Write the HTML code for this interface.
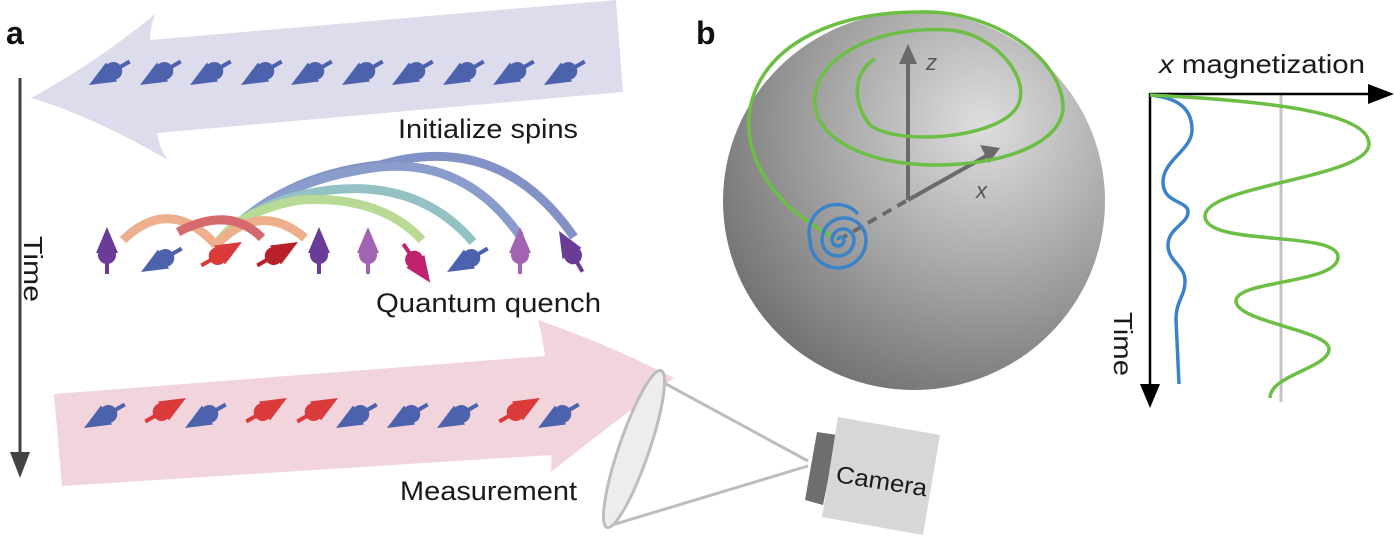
<!DOCTYPE html>
<html><head><meta charset="utf-8"><style>
html,body{margin:0;padding:0;background:#fff;}
svg{display:block;}
text{font-family:"Liberation Sans",sans-serif;fill:#1a1a1a;}
</style></head><body>
<svg width="1395" height="537" viewBox="0 0 1395 537" xmlns="http://www.w3.org/2000/svg">
<defs>
<g id="sp">
<circle cx="0" cy="-2" r="9" fill="currentColor"/>
<polygon points="0,-30 -11,-4 11,-4" fill="currentColor"/>
<line x1="0" y1="5" x2="0" y2="17" stroke="currentColor" stroke-width="4"/>
</g>
<radialGradient id="sg" cx="0.68" cy="0.3" r="0.8">
<stop offset="0" stop-color="#dedede"/>
<stop offset="0.45" stop-color="#acacac"/>
<stop offset="1" stop-color="#6e6e6e"/>
</radialGradient>
</defs>

<!-- panel a -->
<text x="6" y="44" font-size="32" font-weight="bold" style="fill:#111">a</text>
<line x1="20" y1="78" x2="20" y2="458" stroke="#444" stroke-width="3"/>
<polygon points="10,452 30,452 20,478" fill="#444"/>
<text transform="translate(24,236) rotate(90)" font-size="26" textLength="66" lengthAdjust="spacingAndGlyphs">Time</text>

<path d="M616,0 L623,92 L157,133 Q160,150 168,160 Q90,115 31,98 Q100,60 155,14 Q150,28 150,40 Z" fill="#dcdcec"/>
<g style="color:#4d62ad">
<use href="#sp" transform="translate(115,70) rotate(-120)"/>
<use href="#sp" transform="translate(166,70) rotate(-120)"/>
<use href="#sp" transform="translate(216,70) rotate(-120)"/>
<use href="#sp" transform="translate(267,70) rotate(-120)"/>
<use href="#sp" transform="translate(317,70) rotate(-120)"/>
<use href="#sp" transform="translate(368,70) rotate(-120)"/>
<use href="#sp" transform="translate(418,70) rotate(-120)"/>
<use href="#sp" transform="translate(469,70) rotate(-120)"/>
<use href="#sp" transform="translate(519,70) rotate(-120)"/>
<use href="#sp" transform="translate(570,70) rotate(-120)"/>
</g>
<text x="398" y="138" font-size="27" textLength="180" lengthAdjust="spacingAndGlyphs">Initialize spins</text>

<g fill="none" stroke-width="9" stroke-linecap="butt">
<path d="M574,237 Q500,130 380,165 Q280,175 216,245" stroke="#8392c6"/>
<path d="M520,236 Q460,150 360,170 Q270,185 216,245" stroke="#8a9ccc"/>
<path d="M473,242 Q420,180 330,190 Q250,200 216,245" stroke="#94c2c4"/>
<path d="M422,240 Q380,195 300,200 Q240,210 216,245" stroke="#b8da94"/>
<path d="M305,238 Q260,200 216,245" stroke="#eeb08c"/>
<path d="M123,240 Q170,195 216,245" stroke="#eeb08c"/>
<path d="M178,232 Q230,205 262,238" stroke="#d46a6e"/>
</g>
<use href="#sp" transform="translate(107,257)" style="color:#6a3c98"/>
<use href="#sp" transform="translate(167,257) rotate(-120)" style="color:#4d62ad"/>
<use href="#sp" transform="translate(216,257) rotate(60)" style="color:#da3a3a"/>
<use href="#sp" transform="translate(272,257) rotate(60)" style="color:#b8212a"/>
<use href="#sp" transform="translate(319,257)" style="color:#6a3c98"/>
<use href="#sp" transform="translate(368,257)" style="color:#a263b2"/>
<use href="#sp" transform="translate(413,258) rotate(145)" style="color:#c0226d"/>
<use href="#sp" transform="translate(473,257) rotate(-120)" style="color:#4d62ad"/>
<use href="#sp" transform="translate(520,257)" style="color:#a263b2"/>
<use href="#sp" transform="translate(574,257) rotate(-30)" style="color:#6a3c98"/>
<text x="376" y="312" font-size="27" textLength="225" lengthAdjust="spacingAndGlyphs">Quantum quench</text>

<path d="M54,394 L545,356 Q542,335 538,320 Q610,345 674,378 Q610,425 551,472 Q552,462 551,455 L62,486 Z" fill="#f2d4dd"/>
<g>
<use href="#sp" transform="translate(110,413) rotate(-120)" style="color:#4d62ad"/>
<use href="#sp" transform="translate(160,413) rotate(60)" style="color:#da3a3a"/>
<use href="#sp" transform="translate(211,413) rotate(-120)" style="color:#4d62ad"/>
<use href="#sp" transform="translate(261,413) rotate(60)" style="color:#da3a3a"/>
<use href="#sp" transform="translate(312,413) rotate(60)" style="color:#da3a3a"/>
<use href="#sp" transform="translate(362,413) rotate(-120)" style="color:#4d62ad"/>
<use href="#sp" transform="translate(413,413) rotate(-120)" style="color:#4d62ad"/>
<use href="#sp" transform="translate(463,413) rotate(-120)" style="color:#4d62ad"/>
<use href="#sp" transform="translate(514,413) rotate(60)" style="color:#da3a3a"/>
<use href="#sp" transform="translate(564,413) rotate(-120)" style="color:#4d62ad"/>
</g>
<text x="400" y="500" font-size="27" textLength="177" lengthAdjust="spacingAndGlyphs">Measurement</text>

<line x1="666" y1="384" x2="808" y2="461" stroke="#bdbdbd" stroke-width="3"/>
<line x1="612" y1="525" x2="808" y2="466" stroke="#bdbdbd" stroke-width="3"/>
<ellipse cx="634" cy="449" rx="15" ry="83" transform="rotate(19 634 449)" fill="#ededf0" stroke="#bdbdbd" stroke-width="3"/>
<polygon points="817,432 837,435 823,505 805,500" fill="#6e6e6e"/>
<polygon points="838,417 940,435 923,535 822,517" fill="#d7d7d7"/>
<text transform="translate(835,482) rotate(9)" font-size="24" textLength="92" lengthAdjust="spacingAndGlyphs">Camera</text>

<!-- panel b -->
<text x="696" y="44" font-size="32" font-weight="bold" style="fill:#111">b</text>
<ellipse cx="914" cy="201" rx="191" ry="189" fill="url(#sg)"/>
<line x1="908" y1="200" x2="908" y2="62" stroke="#6a6a6a" stroke-width="4"/>
<polygon points="899,64 917,64 908,44" fill="#6a6a6a"/>
<text x="926" y="70" font-size="22" font-style="italic" style="fill:#555">z</text>
<line x1="908" y1="200" x2="988" y2="155" stroke="#6a6a6a" stroke-width="4"/>
<polygon points="980,145 1000,148 989,163" fill="#6a6a6a"/>
<text x="976" y="198" font-size="22" font-style="italic" style="fill:#555">x</text>
<line x1="906" y1="201" x2="842" y2="238" stroke="#6a6a6a" stroke-width="4" stroke-dasharray="10,7"/>
<path d="M875,59 C855,70 850,100 870,125 C895,145 990,140 1015,110 C1035,85 1000,35 950,30 C880,25 820,55 815,95 C810,140 870,165 935,165 C1010,165 1065,140 1063,105 C1060,55 990,10 920,12 C840,12 770,40 752,100 C738,150 770,205 835,238" fill="none" stroke="#6cbe45" stroke-width="3.5"/>
<path d="M858,214 A28,28 0 0 0 810,240 A28,28 0 0 0 866,240 A22,22 0 0 0 822,240 A16,16 0 0 0 854,240 A11,11 0 0 0 832,240 A6,6 0 0 0 844,240 A3,3 0 0 0 838,240" fill="none" stroke="#3c82c8" stroke-width="3.5"/>

<!-- graph -->
<text x="1159" y="73" font-size="26" textLength="206" lengthAdjust="spacingAndGlyphs"><tspan font-style="italic">x</tspan> magnetization</text>
<line x1="1281" y1="95" x2="1281" y2="402" stroke="#c4c4c4" stroke-width="3"/>
<line x1="1150" y1="94" x2="1378" y2="94" stroke="#000" stroke-width="2.5"/>
<polygon points="1368,84 1394,94 1368,104" fill="#000"/>
<line x1="1150" y1="93" x2="1150" y2="395" stroke="#000" stroke-width="2.5"/>
<polygon points="1140,384 1160,384 1150,408" fill="#000"/>
<text transform="translate(1114,312) rotate(90)" font-size="26" textLength="64" lengthAdjust="spacingAndGlyphs">Time</text>
<path d="M1150,95 C1180,98 1192,110 1192,130 S1163,160 1163,182 S1188,200 1188,212 S1168,228 1168,245 S1185,265 1185,281 S1176,300 1176,320 L1179,384" fill="none" stroke="#3c82c8" stroke-width="3.5"/>
<path d="M1150,95 C1250,100 1369,110 1369,144 S1205,185 1205,216 S1338,230 1338,257 S1236,280 1236,301 S1329,330 1329,349 S1270,375 1270,398" fill="none" stroke="#6cbe45" stroke-width="3.5"/>
</svg>
</body></html>
